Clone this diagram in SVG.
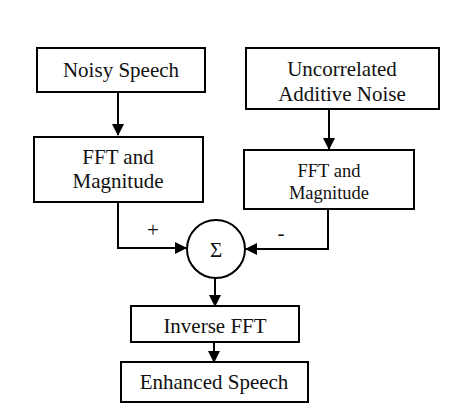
<svg xmlns="http://www.w3.org/2000/svg" width="474" height="411" viewBox="0 0 474 411" font-family="'Liberation Serif', 'DejaVu Serif', serif">
<defs>
<marker id="ah" markerWidth="12" markerHeight="12" refX="11" refY="6" orient="auto" markerUnits="userSpaceOnUse">
<path d="M0,0 L12,6 L0,12 Z" fill="#000"/>
</marker>
<style>
.box{fill:#fff;stroke:#000;stroke-width:2}
.t{font-family:'Liberation Serif',serif;font-size:21px;fill:#111;text-anchor:middle}
.ts{font-size:18.5px}
.ln{fill:none;stroke:#000;stroke-width:2}
</style>
</defs>
<rect width="474" height="411" fill="#fff"/>
<g id="connectors">
<path class="ln" d="M118,92 V135" marker-end="url(#ah)"/>
<path class="ln" d="M329,109 V149" marker-end="url(#ah)"/>
<path class="ln" d="M118,202 V248 H186" marker-end="url(#ah)"/>
<path class="ln" d="M328,209 V249 H246" marker-end="url(#ah)"/>
<path class="ln" d="M215,278 V306" marker-end="url(#ah)"/>
<path class="ln" d="M214,342 V362" marker-end="url(#ah)"/>
<text class="t" x="153" y="237">+</text>
<text class="t" x="281" y="240">-</text>
</g>
<g id="noisy">
<rect class="box" x="37" y="48" width="168" height="44"/>
<text class="t" x="121" y="77">Noisy Speech</text>
</g>
<g id="fft1">
<rect class="box" x="34" y="137" width="169" height="65"/>
<text class="t" x="118" y="164">FFT and</text>
<text class="t" x="118" y="188">Magnitude</text>
</g>
<g id="noise">
<rect class="box" x="246" y="48" width="193" height="61"/>
<text class="t" x="342" y="76">Uncorrelated</text>
<text class="t" x="342" y="101">Additive Noise</text>
</g>
<g id="fft2">
<rect class="box" x="244" y="150" width="170" height="59"/>
<text class="t ts" x="329" y="177">FFT and</text>
<text class="t ts" x="329" y="199">Magnitude</text>
</g>
<g id="sum">
<circle class="box" cx="216" cy="249" r="29"/>
<text class="t" x="216" y="257">Σ</text>
</g>
<g id="ifft">
<rect class="box" x="131" y="306" width="168" height="36"/>
<text class="t" x="215" y="333">Inverse FFT</text>
</g>
<g id="enhanced">
<rect class="box" x="121" y="362" width="187" height="40"/>
<text class="t" x="214" y="389">Enhanced Speech</text>
</g>
</svg>
